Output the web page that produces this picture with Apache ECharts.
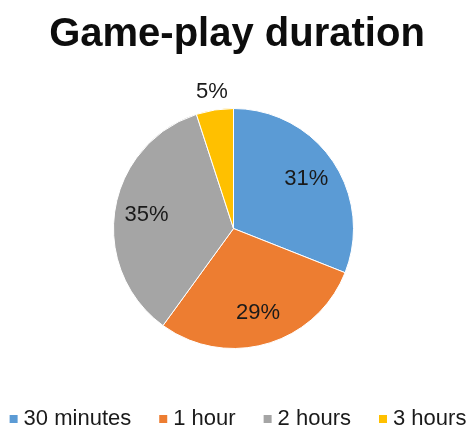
<!DOCTYPE html>
<html>
<head>
<meta charset="utf-8">
<script src="https://cdn.jsdelivr.net/npm/echarts@6/dist/echarts.min.js"></script>
<style>
html,body{margin:0;padding:0;background:#fff;}
#chart{width:474px;height:440px;}
</style>
</head>
<body>
<div id="chart"></div>
<script>
const categories = ['30 minutes', '1 hour', '2 hours', '3 hours'];
const values = [31, 29, 35, 5];
const colors = ['#5B9BD5', '#ED7D31', '#A5A5A5', '#FFC000'];
const titleText = 'Game-play duration';

const chart = echarts.init(document.getElementById('chart'), null, {renderer: 'canvas'});

const baseData = categories.map((c, i) => ({name: c, value: values[i]}));
const center = [233.5, 228.5];
const labelFont = {fontFamily: 'Liberation Sans, Arial, sans-serif', fontSize: 22, color: '#1a1a1a'};

function labelSeries(radius, test) {
  return {
    type: 'pie',
    center: center,
    radius: radius,
    silent: true,
    startAngle: 90,
    clockwise: true,
    data: baseData,
    itemStyle: {color: 'transparent', borderWidth: 0},
    label: Object.assign({
      show: true,
      position: 'inside',
      formatter: p => test(p.value) ? p.value + '%' : ''
    }, labelFont),
    labelLine: {show: false},
    emphasis: {disabled: true},
    tooltip: {show: false},
    animation: false
  };
}

chart.setOption({
  animation: false,
  color: colors,
  title: {
    text: titleText,
    left: 'center',
    top: 10,
    padding: [5, 11, 5, 5],
    textStyle: {fontFamily: 'Liberation Sans, Arial, sans-serif', fontSize: 40, fontWeight: 'bold', color: '#0d0d0d'}
  },
  legend: {
    data: categories,
    bottom: 5,
    left: 'center',
    icon: 'rect',
    itemWidth: 10,
    itemHeight: 10,
    itemGap: 26,
    textStyle: {fontFamily: 'Liberation Sans, Arial, sans-serif', fontSize: 22, color: '#1a1a1a', padding: [0, 0, 0, 0]}
  },
  series: [
    {
      type: 'pie',
      center: center,
      radius: [0, 120],
      startAngle: 90,
      clockwise: true,
      data: baseData,
      itemStyle: {borderColor: '#ffffff', borderWidth: 1},
      label: {show: false},
      labelLine: {show: false},
      emphasis: {scale: false}
    },
    labelSeries([50, 120], v => v >= 10),
    labelSeries([120, 150], v => v < 10)
  ]
});
</script>
</body>
</html>
